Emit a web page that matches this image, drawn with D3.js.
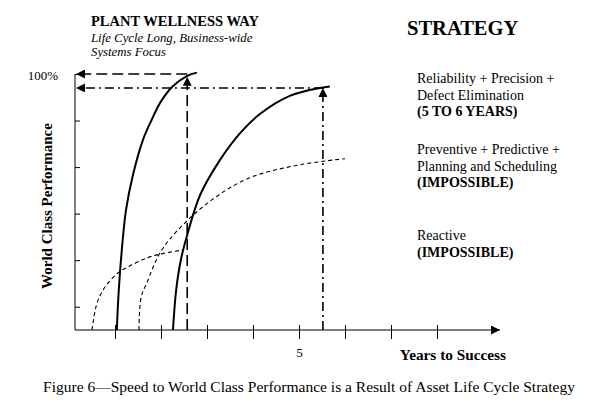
<!DOCTYPE html>
<html>
<head>
<meta charset="utf-8">
<script src="https://cdn.jsdelivr.net/npm/d3@7"></script>
<style>
body { margin:0; background:#fff; }
text { font-family: "Liberation Serif", "Times New Roman", serif; fill:#000; }
</style>
</head>
<body>
<script>
// curve points: [years, performance units]  (5.5 units = 100%)
var pwwCurve = [[1.04,0],[1.07,0.65],[1.13,1.51],[1.24,2.58],[1.39,3.33],[1.61,4.09],[1.80,4.52],[1.98,4.88],[2.24,5.22],[2.57,5.46],[2.78,5.53]];
var reliabilityCurve = [[2.26,0],[2.33,0.86],[2.43,1.50],[2.57,2.04],[2.85,2.90],[3.28,3.65],[3.72,4.23],[4.15,4.64],[4.80,5.03],[5.46,5.20],[5.67,5.23]];
var preventiveCurve = [[1.52,0],[1.57,0.71],[1.70,1.03],[1.98,1.66],[2.37,2.15],[3.11,2.80],[3.93,3.27],[5.02,3.55],[6.00,3.68]];
var reactiveCurve = [[0.50,0],[0.61,0.58],[0.78,0.92],[1.07,1.23],[1.37,1.40],[1.70,1.55],[1.98,1.63],[2.48,1.72]];

var xTicks = [1,2,3,4,5,6,7,8];
var yTicks = [0.5,1.5,2.5,3.5,4.5,5.5];

// where each strategy reaches its plateau
var pwwTarget = {year:2.57, perf:5.5, tip:5.44};
var relTarget = {year:5.52, perf:5.2, tip:5.2};

var strategyLabels = [
	{lines:["Reliability + Precision +","Defect Elimination"], bold:"(5 TO 6 YEARS)", y:83},
	{lines:["Preventive + Predictive +","Planning and Scheduling"], bold:"(IMPOSSIBLE)", y:154},
	{lines:["Reactive"], bold:"(IMPOSSIBLE)", y:240}
];

var w = 600, h = 403;

var svg = d3.select("body").append("svg")
	.attr("width", w)
	.attr("height", h);

var xScale = d3.scaleLinear().domain([0, 9]).range([69, 483]);
var yScale = d3.scaleLinear().domain([0, 5.5]).range([330, 74]);

var defs = svg.append("defs");
defs.append("marker")
	.attr("id","head")
	.attr("viewBox","0 0 10 10")
	.attr("refX",10).attr("refY",5)
	.attr("markerWidth",9).attr("markerHeight",9)
	.attr("markerUnits","userSpaceOnUse")
	.attr("orient","auto-start-reverse")
	.append("path")
	.attr("d","M0,0L10,5L0,10Z")
	.attr("fill","black");

// x axis
var xAxis = d3.axisBottom(xScale)
	.tickValues(xTicks)
	.tickSize(9)
	.tickPadding(9)
	.tickFormat(function(d){ return d == 5 ? "5" : ""; });

var gx = svg.append("g")
	.attr("transform","translate(0,330)")
	.call(xAxis)
	.attr("font-size",13)
	.attr("font-family","Liberation Serif");
gx.select(".domain").remove();
gx.selectAll(".tick line").attr("y1",-5).attr("stroke","black");

svg.append("line")
	.attr("x1",75).attr("x2",500)
	.attr("y1",330).attr("y2",330)
	.attr("stroke","black")
	.attr("marker-end","url(#head)");

// y axis
var yAxis = d3.axisLeft(yScale)
	.tickValues(yTicks)
	.tickSize(7)
	.tickPadding(10)
	.tickFormat(function(d){ return d == 5.5 ? "100%" : ""; });

var gy = svg.append("g")
	.attr("transform","translate(75,0)")
	.call(yAxis)
	.attr("font-size",13)
	.attr("font-family","Liberation Serif");
gy.select(".domain").remove();
gy.selectAll(".tick line").attr("x2",5).attr("stroke","black");
gy.selectAll(".tick text").attr("dy","0.45em");

svg.append("line")
	.attr("x1",75).attr("x2",75)
	.attr("y1",yScale(5.5)).attr("y2",330)
	.attr("stroke","black");

// guide arrows
function guide(t, dash){
	svg.append("line")
		.attr("x1",xScale(t.year)).attr("x2",76)
		.attr("y1",yScale(t.perf)).attr("y2",yScale(t.perf))
		.attr("stroke","black").attr("stroke-width",1.6)
		.attr("stroke-dasharray",dash)
		.attr("marker-end","url(#head)");
	svg.append("line")
		.attr("x1",xScale(t.year)).attr("x2",xScale(t.year))
		.attr("y1",330).attr("y2",yScale(t.tip))
		.attr("stroke","black").attr("stroke-width",1.6)
		.attr("stroke-dasharray",dash)
		.attr("marker-end","url(#head)");
}
guide(pwwTarget, "11,5");
guide(relTarget, "9,4,2,4");

// curves
var line = d3.line()
	.x(function(d){ return xScale(d[0]); })
	.y(function(d){ return yScale(d[1]); })
	.curve(d3.curveCatmullRom.alpha(0.5));

svg.append("path").datum(reactiveCurve)
	.attr("d",line).attr("fill","none")
	.attr("stroke","black").attr("stroke-width",1.1)
	.attr("stroke-dasharray","4,3");

svg.append("path").datum(preventiveCurve)
	.attr("d",line).attr("fill","none")
	.attr("stroke","black").attr("stroke-width",1.1)
	.attr("stroke-dasharray","4,3");

svg.append("path").datum(pwwCurve)
	.attr("d",line).attr("fill","none")
	.attr("stroke","black").attr("stroke-width",2);

svg.append("path").datum(reliabilityCurve)
	.attr("d",line).attr("fill","none")
	.attr("stroke","black").attr("stroke-width",2);

// titles
svg.append("text")
	.attr("x",91).attr("y",26)
	.attr("font-size",14.5).attr("font-weight","bold")
	.text("PLANT WELLNESS WAY");
svg.append("text")
	.attr("x",91).attr("y",42)
	.attr("font-size",12.8).attr("font-style","italic")
	.text("Life Cycle Long, Business-wide");
svg.append("text")
	.attr("x",91).attr("y",56)
	.attr("font-size",12.8).attr("font-style","italic")
	.text("Systems Focus");

svg.append("text")
	.attr("x",407).attr("y",35)
	.attr("font-size",20.5).attr("font-weight","bold")
	.text("STRATEGY");

// strategy labels
strategyLabels.forEach(function(s){
	var t = svg.append("text")
		.attr("x",417).attr("y",s.y)
		.attr("font-size",14);
	s.lines.forEach(function(l,i){
		t.append("tspan").attr("x",417).attr("dy",i==0?0:16.5).text(l);
	});
	t.append("tspan").attr("x",417).attr("dy",16.5)
		.attr("font-weight","bold").text(s.bold);
});

// axis titles
svg.append("text")
	.attr("transform","translate(52,206) rotate(-90)")
	.attr("text-anchor","middle")
	.attr("font-size",15).attr("font-weight","bold")
	.text("World Class Performance");

svg.append("text")
	.attr("x",506).attr("y",360)
	.attr("text-anchor","end")
	.attr("font-size",15.3).attr("font-weight","bold")
	.text("Years to Success");

svg.append("text")
	.attr("x",309).attr("y",392)
	.attr("text-anchor","middle")
	.attr("font-size",15.5)
	.text("Figure 6\u2014Speed to World Class Performance is a Result of Asset Life Cycle Strategy");
</script>
</body>
</html>
